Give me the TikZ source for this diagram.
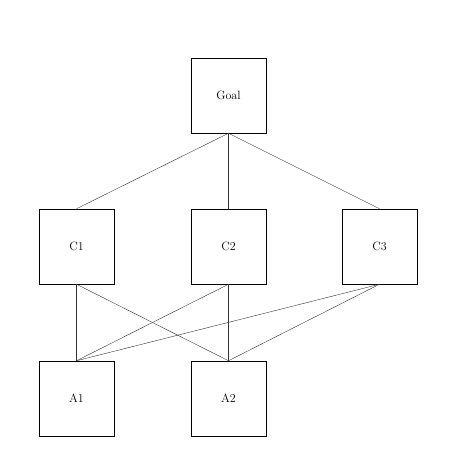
\documentclass[tikz,border=0pt]{standalone}
\begin{document}
\begin{tikzpicture}[x=1pt,y=-1pt,
  box/.style={draw, minimum width=75pt, minimum height=75pt, inner sep=0pt, line width=0.5pt, font=\fontsize{12}{14}\selectfont},
  edge/.style={line width=0.4pt, draw=black!80}]
\useasboundingbox (0,0) rectangle (474,470);
\node[box] (goal) at (228.5,95.5) {Goal};
\node[box] (c1) at (76.5,246.5) {C1};
\node[box] (c2) at (228.5,246.5) {C2};
\node[box] (c3) at (379.5,246.5) {C3};
\node[box] (a1) at (76.5,398.5) {A1};
\node[box] (a2) at (228.5,398.5) {A2};
\foreach \c in {c1,c2,c3} \draw[edge] (goal.south) -- (\c.north);
\foreach \c in {c1,c2,c3} {
  \draw[edge] (\c.south) -- (a1.north);
  \draw[edge] (\c.south) -- (a2.north);
}
\end{tikzpicture}
\end{document}
